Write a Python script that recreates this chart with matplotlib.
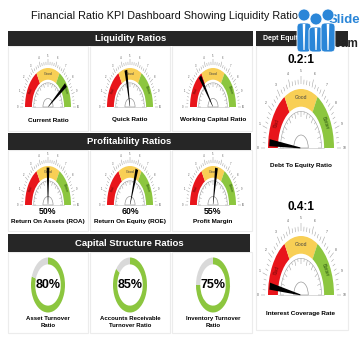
import numpy as np
import matplotlib
matplotlib.use('Agg')
import matplotlib.pyplot as plt
from matplotlib import font_manager
from matplotlib.patches import Rectangle, Wedge, Circle, FancyBboxPatch
from matplotlib.collections import LineCollection

# data
title = 'Financial Ratio KPI Dashboard Showing Liquidity Ratio &'
liq_names = ['Current Ratio', 'Quick Ratio', 'Working Capital Ratio']
liq_vals = [80, 44, 30]                    # needle position, % of scale
prof_names = ['Return On Assets (ROA)', 'Return On Equity (ROE)', 'Profit Margin']
prof_vals = [50, 60, 55]
cap_names = ['Asset Turnover\nRatio', 'Accounts Receivable\nTurnover Ratio', 'Inventory Turnover\nRatio']
cap_vals = [80, 85, 75]
debt_names = ['Debt To Equity Ratio', 'Interest Coverage Rate']
debt_texts = ['0.2:1', '0.4:1']
debt_vals = [3, 5]
headers = ['Liquidity Ratios', 'Profitability Ratios', 'Capital Structure Ratios', 'Dept Equity Ratios']
zone_names = ['Bad', 'Good', 'Better']

names = {f.name for f in font_manager.fontManager.ttflist}
fam = 'Liberation Sans Narrow' if 'Liberation Sans Narrow' in names else 'Liberation Sans'
plt.rcParams['font.family'] = [fam, 'DejaVu Sans']

RED, YEL, GRN = '#e8151b', '#f8cf55', '#8cc63f'
DARK = '#262626'
BLUE = '#2a86d8'
W = H = 360

fig = plt.figure(figsize=(3.6, 3.6), dpi=100)
ax = fig.add_axes([0, 0, 1, 1])
ax.set_xlim(0, W)
ax.set_ylim(H, 0)
ax.axis('off')

# cards
for x0 in [8, 90, 172]:
    for y0, y1 in [(46, 131), (150, 231), (252, 333)]:
        ax.add_patch(Rectangle((x0, y0), 80, y1 - y0, fc='white', ec='#ececec', lw=0.8))
ax.add_patch(Rectangle((256, 46), 92, 284, fc='white', ec='#ececec', lw=0.8))

# header bars
bars = [(8, 31, 245, 15), (8, 133, 243, 17), (8, 234, 242, 18), (256, 31, 92, 15)]
for (x0, y0, w, h), t in zip(bars, headers):
    ax.add_patch(Rectangle((x0, y0), w, h, fc=DARK, ec='none'))
    fs = 5 if x0 > 200 else 6.8
    ax.text(x0 + w / 2 - (8 if x0 > 200 else 0), y0 + h / 2, t, color='white', fontsize=fs,
            fontweight='bold', ha='center', va='center')

ax.text(170, 16, title, fontsize=7.8, ha='center', va='center', color='#111111')


def sub_axes(cx, cy, rx, ry, pad=1.45, low=0.15):
    a = fig.add_axes([(cx - pad * rx) / W, 1 - (cy + low * ry) / H,
                      2 * pad * rx / W, (pad + low) * ry / H])
    a.set_xlim(-pad, pad)
    a.set_ylim(-low, pad)
    a.axis('off')
    return a


def gauge(cx, cy, rx, ry, val, big=False):
    a = sub_axes(cx, cy, rx, ry)
    # outer scale
    segs = []
    for i, t in enumerate(np.radians(np.linspace(0, 180, 41))):
        r2 = 1.22 if i % 4 == 0 else 1.16
        segs.append([(1.08 * np.cos(t), 1.08 * np.sin(t)), (r2 * np.cos(t), r2 * np.sin(t))])
    a.add_collection(LineCollection(segs, colors='#9a9a9a', lw=0.35))
    for k, t in enumerate(np.radians(np.linspace(180, 0, 11))):
        a.text(1.31 * np.cos(t), 1.31 * np.sin(t), str(k), fontsize=2.4 if big else 1.9,
               color='#555555', ha='center', va='center')
    # coloured band
    for (t1, t2), c in zip([(120, 180), (60, 120), (0, 60)], [RED, YEL, GRN]):
        a.add_patch(Wedge((0, 0), 1, t1, t2, width=0.3, fc=c, ec='none'))
    for th, txt, col in zip([150, 90, 30], zone_names, ['#7a0a0a', '#444444', '#2e5a12']):
        t = np.radians(th)
        rot = np.degrees(np.arctan2(-np.cos(t) * ry, np.sin(t) * rx))
        a.text(0.85 * np.cos(t), 0.85 * np.sin(t), txt, fontsize=3.6 if big else 2.6,
               color=col, rotation=rot, ha='center', va='center')
    # inner scale
    tt = np.radians(np.linspace(0, 180, 100))
    a.plot(0.62 * np.cos(tt), 0.62 * np.sin(tt), color='#a0a0a0', lw=0.4)
    segs = []
    for i, t in enumerate(np.radians(np.linspace(0, 180, 21))):
        r2 = 0.52 if i % 2 == 0 else 0.57
        segs.append([(0.62 * np.cos(t), 0.62 * np.sin(t)), (r2 * np.cos(t), r2 * np.sin(t))])
    a.add_collection(LineCollection(segs, colors='#9a9a9a', lw=0.35))
    a.plot([-0.7, 0.7], [0, 0], color='#bdbdbd', lw=0.4)
    a.add_patch(Wedge((0, 0), 0.22, 0, 180, fc='white', ec='#9a9a9a', lw=0.5))
    # needle
    t = np.radians(180 - 1.8 * val)
    d = np.array([np.cos(t), np.sin(t)])
    n = np.array([-np.sin(t), np.cos(t)])
    pts = [0.02 * d + 0.008 * n, 0.96 * d + 0.06 * n, 0.96 * d - 0.06 * n, 0.02 * d - 0.008 * n]
    a.fill([p[0] for p in pts], [p[1] for p in pts], color='black', zorder=5, lw=0)
    return a


xs = [48, 130, 213]
for x, nm, v in zip(xs, liq_names, liq_vals):
    gauge(x, 107, 23, 39, v)
    ax.text(x, 120, nm, fontsize=4.6, fontweight='bold', ha='center', va='center')

for x, nm, v in zip(xs, prof_names, prof_vals):
    gauge(x, 205, 23, 39, v)
    ax.text(x, 212, f'{v}%', fontsize=6.3, fontweight='bold', ha='center', va='center')
    ax.text(x, 221.5, nm, fontsize=4.6, fontweight='bold', ha='center', va='center')

for cy, txt, nm, v in zip([148, 295], debt_texts, debt_names, debt_vals):
    gauge(301, cy, 33, 59, v, big=True)
    ax.text(301, cy - 88, txt, fontsize=8.5, fontweight='bold', ha='center', va='center')
    ax.text(301, cy + 18, nm, fontsize=4.6, fontweight='bold', ha='center', va='center')

# donuts
for x, nm, v in zip(xs, cap_names, cap_vals):
    a = sub_axes(x, 285, 17, 27.5, pad=1.05, low=1.05)
    a.pie([v, 100 - v], colors=[GRN, '#d9d9d9'], startangle=90, counterclock=False,
          radius=1, wedgeprops=dict(width=0.25, edgecolor='none'))
    a.set_aspect('auto')
    a.set_xlim(-1.05, 1.05)
    a.set_ylim(-1.05, 1.05)
    ax.text(x, 285, f'{v}%', fontsize=9, fontweight='bold', ha='center', va='center')
    ax.text(x, 322, nm, fontsize=4.3, fontweight='bold', ha='center', va='center',
            linespacing=1.5)

# logo
ax.text(344, 20, 'Slide', fontsize=9.5, fontweight='bold', color=BLUE, ha='center', va='center')
ax.text(359, 44, 'Team', fontsize=8.5, fontweight='bold', color='#222222', ha='right', va='center')
for hx, hy in [(304, 15), (316, 19), (328, 15)]:
    ax.add_patch(Circle((hx, hy), 6, fc=BLUE, ec='white', lw=0.6, zorder=6))
    ax.add_patch(FancyBboxPatch((hx - 7, hy + 8), 14, 44 - hy, boxstyle='round,pad=0,rounding_size=4',
                                fc=BLUE, ec='white', lw=0.6, zorder=6))
    ax.fill([hx - 1.3, hx + 1.3, hx + 0.6, hx - 0.6], [hy + 9, hy + 9, 50, 50],
            color='white', lw=0, zorder=7)

fig.savefig('out.png', dpi=100)
